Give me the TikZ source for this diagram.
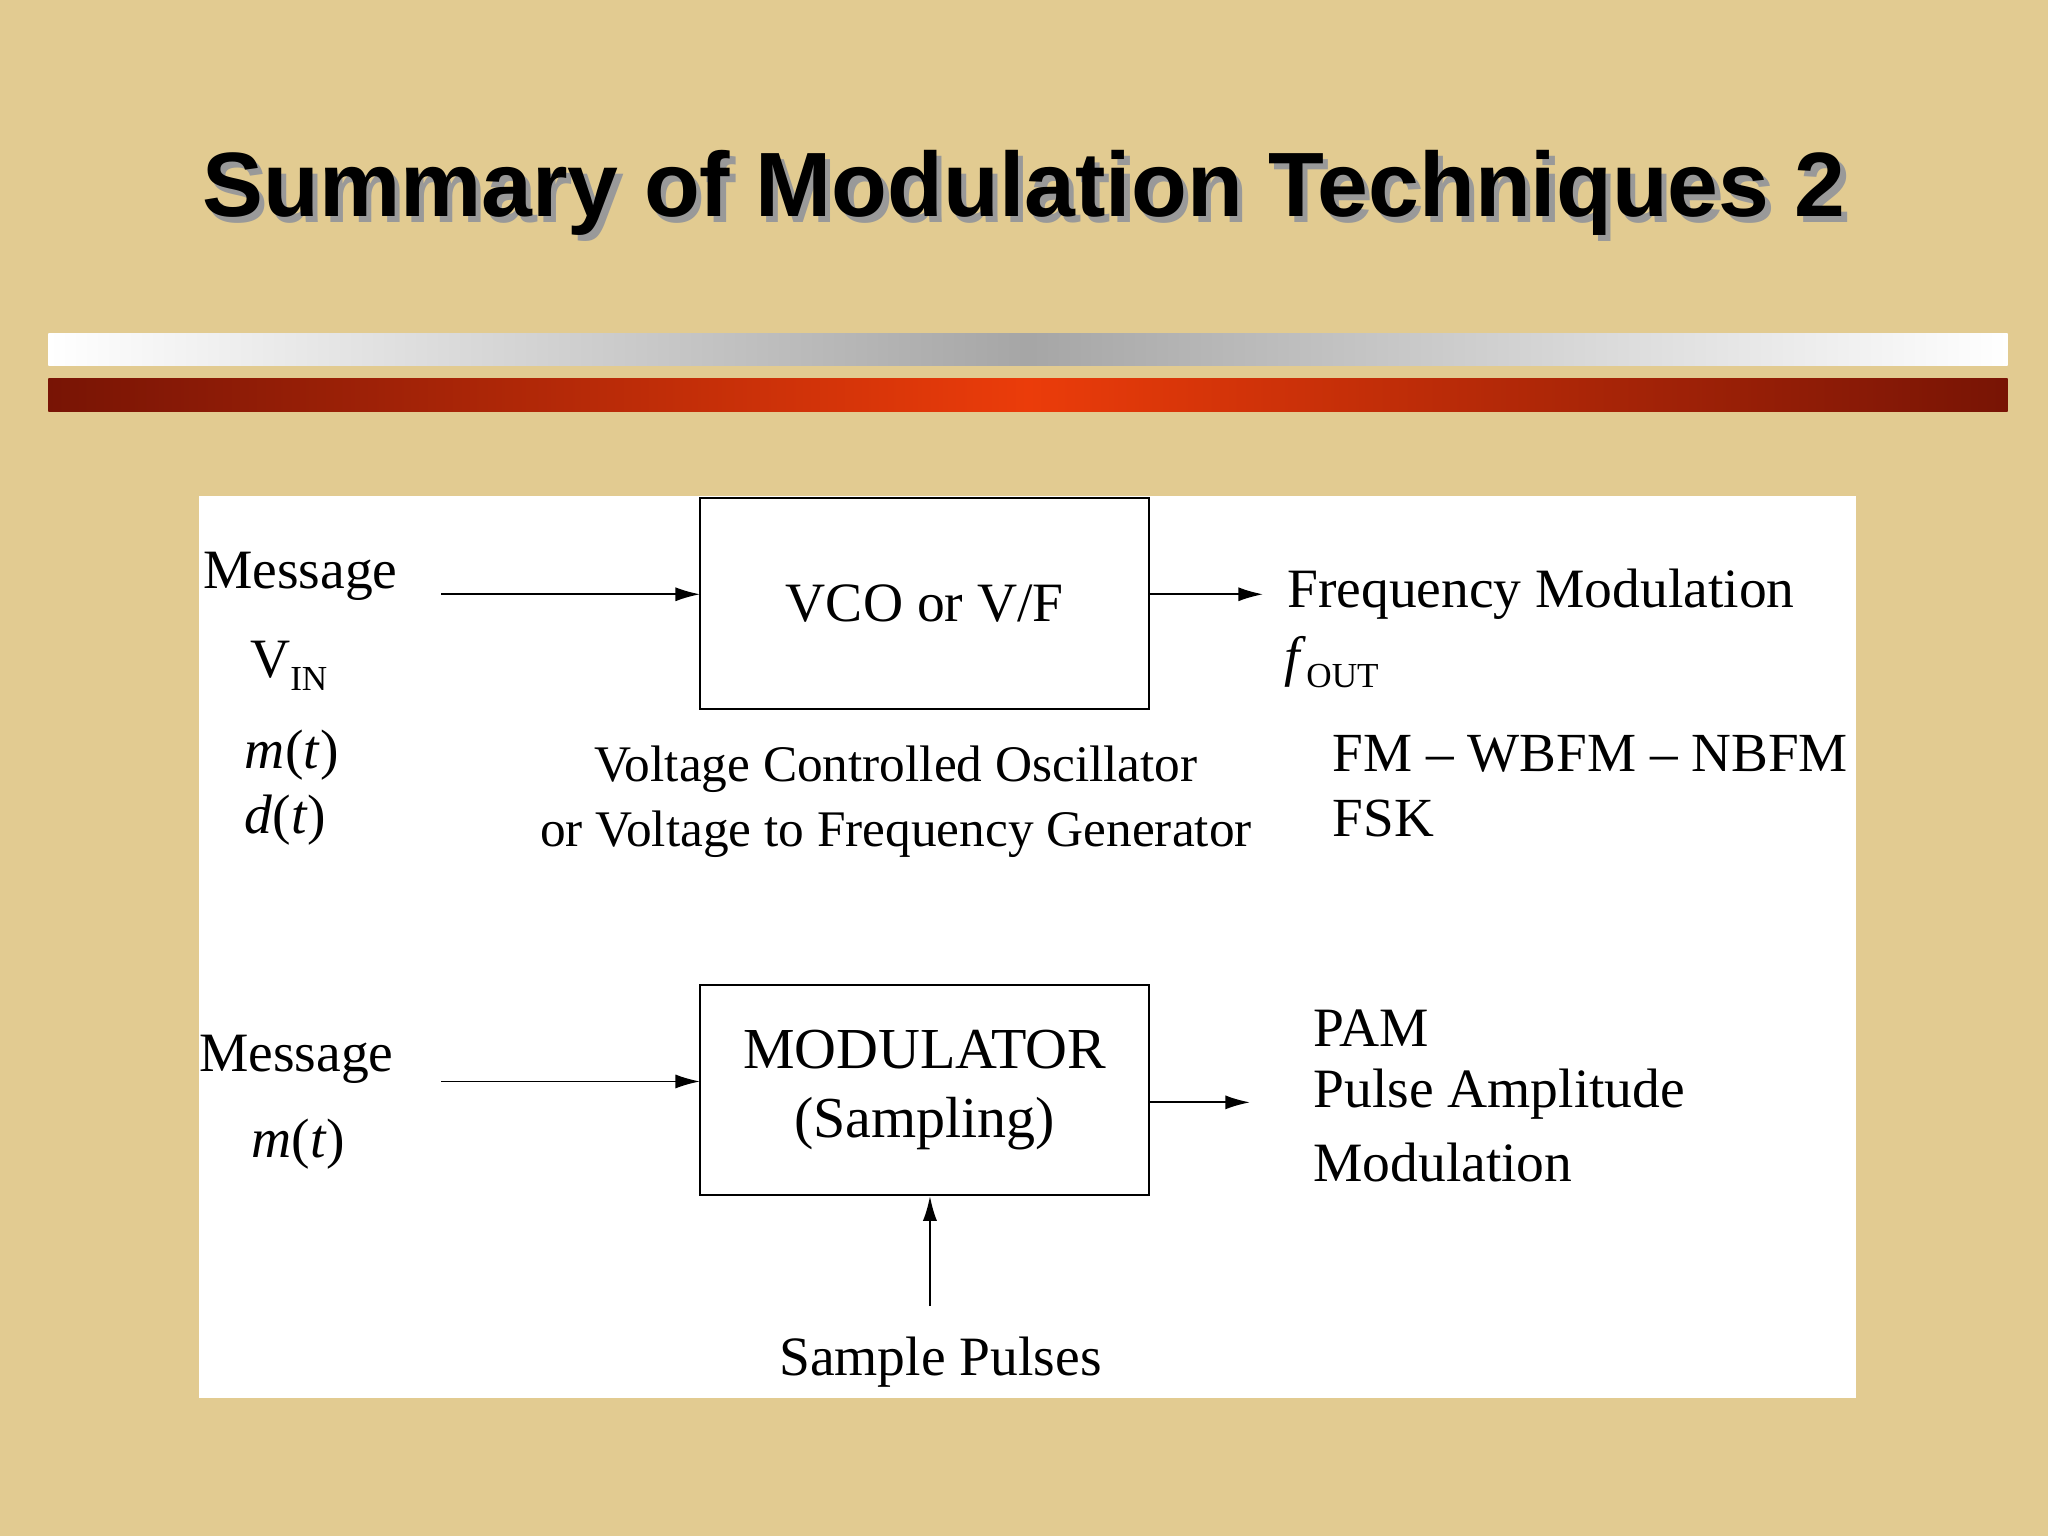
\documentclass[tikz,border=0pt]{standalone}
\usepackage{fontspec}
\usetikzlibrary{arrows.meta}
\setmainfont{Liberation Serif}
\newfontfamily\titlefont{Liberation Sans}
\begin{document}
\begin{tikzpicture}[x=0.013061cm,y=-0.013061cm,
  lbl/.style={inner sep=0pt,font=\fontsize{15.8}{18}\selectfont},
  blk/.style={draw,line width=0.6pt},
  arr/.style={-{Latex[length=7pt,width=4pt]},line width=0.5pt}]
\definecolor{tan}{RGB}{226,203,145}
\definecolor{dred}{RGB}{120,20,5}
\definecolor{ored}{RGB}{235,60,10}
\useasboundingbox (0,0) rectangle (1568,1176);
\fill[tan] (0,0) rectangle (1568,1176);
% title
\node[text=black!40,font=\titlefont\bfseries\fontsize{26}{30}\selectfont] at (788,152) {Summary of Modulation Techniques 2};
\node[font=\titlefont\bfseries\fontsize{26}{30}\selectfont] (title) at (784,148) {Summary of Modulation Techniques 2};
% bars
\shade[left color=white,right color=gray!70] (37,255) rectangle (787,280);
\shade[left color=gray!70,right color=white] (787,255) rectangle (1537,280);
\shade[left color=dred,right color=ored] (37,290) rectangle (787,315);
\shade[left color=ored,right color=dred] (787,290) rectangle (1537,315);
% panel
\fill[white] (152,380) rectangle (1421,1070);
% boxes
\node[blk,minimum width=344*0.013061cm,minimum height=162*0.013061cm,font=\fontsize{15.8}{18}\selectfont] (vco) at (708,462) {VCO or V/F};
\node[blk,minimum width=344*0.013061cm,minimum height=161*0.013061cm,font=\fontsize{16.5}{19.5}\selectfont,align=center] (mod) at (708,834.5) {MODULATOR\\(Sampling)};
% coordinates
\coordinate (a1) at (338,455); \coordinate (a1e) at (536,455);
\coordinate (o1) at (967,455);
\coordinate (a2) at (338,828); \coordinate (a2e) at (536,828);
\coordinate (o2s) at (880,844); \coordinate (o2) at (957,844);
\coordinate (sp) at (712,1000);
\draw[arr] (a1) -- (a1e);
\draw[arr] (vco.east |- o1) -- (o1);
\draw[arr] (a2) -- (a2e);
\draw[arr] (o2s) -- (o2);
\draw[arr] (sp) -- (mod.south -| sp);
% texts top
\node[lbl,anchor=west] (m1) at (155,441) {Message};
\node[lbl,anchor=west] (vin) at (191,510) {V\raisebox{-0.5ex}{\fontsize{10}{11}\selectfont IN}};
\node[lbl,anchor=west] (mt1) at (187,578) {\textit{m}(\textit{t})};
\node[lbl,anchor=west] (dt) at (187,628) {\textit{d}(\textit{t})};
\node[lbl,anchor=west] (fm) at (985,455) {Frequency Modulation};
\node[lbl,anchor=west] (fout) at (983,507) {\textit{f}\raisebox{-0.5ex}{\fontsize{10}{11}\selectfont OUT}};
\node[lbl,align=center,font=\fontsize{14.6}{18.5}\selectfont] (vcodesc) at (686,614) {Voltage Controlled Oscillator\\or Voltage to Frequency Generator};
\node[lbl,anchor=west,font=\fontsize{15.7}{18}\selectfont] (fmlist) at (1020,577) {FM -- WBFM -- NBFM};
\node[lbl,anchor=west,font=\fontsize{15.7}{18}\selectfont] (fsk) at (1020,627) {FSK};
% texts bottom
\node[lbl,anchor=west] (m2) at (152,811) {Message};
\node[lbl,anchor=west] (mt2) at (192,876) {\textit{m}(\textit{t})};
\node[lbl,anchor=west] (pam) at (1005,787) {PAM};
\node[lbl,anchor=west] (pa) at (1005,838) {Pulse Amplitude};
\node[lbl,anchor=west] (pm) at (1005,890) {Modulation};
\node[lbl] (spl) at (720,1043) {Sample Pulses};
\end{tikzpicture}
\end{document}
